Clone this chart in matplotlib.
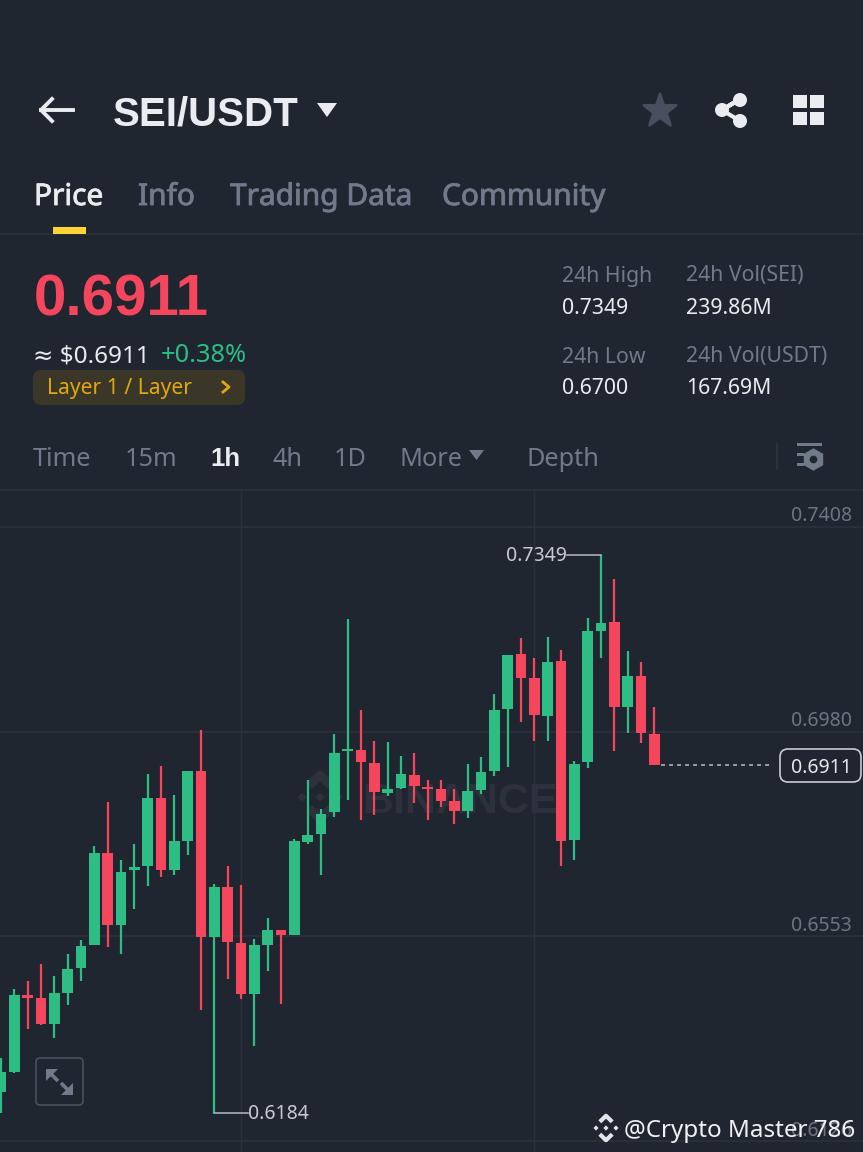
import matplotlib
matplotlib.use('Agg')
import matplotlib.pyplot as plt
import matplotlib.patheffects as pe
from matplotlib.patches import FancyBboxPatch, Polygon, Circle, Rectangle

plt.rcParams['font.family'] = ['Noto Sans', 'DejaVu Sans']

BG = '#1f2630'
UP = '#2ebd85'
DOWN = '#f6465d'
GRID = '#2b313c'
MUTED = '#707a8a'
LIGHT = '#eaecef'
HEAVY = 'Liberation Sans'  # Noto Sans has no bold cut here

# candles, left to right
opens = [.6228, .6271, .6430, .6425, .6370, .6435, .6487, .6535, .6727, .6576,
         .6691, .6701, .6841, .6691, .6753, .6899, .6552, .6657, .6539, .6432,
         .6536, .6567, .6555, .6751, .6767, .6812, .6940, .6942, .6916, .6852,
         .6862, .6891, .6863, .6861, .6835, .6815, .6859, .6899, .7027, .7142,
         .7092, .7014, .7128, .6755, .6917, .7190, .7209, .7032, .7096, .6976]
closes = [.6271, .6430, .6425, .6370, .6434, .6486, .6534, .6727, .6576, .6688,
          .6699, .6843, .6691, .6752, .6899, .6551, .6657, .6541, .6433, .6535,
          .6567, .6555, .6752, .6765, .6808, .6937, .6943, .6918, .6855, .6861,
          .6892, .6867, .6860, .6836, .6815, .6857, .6897, .7025, .7141, .7092,
          .7016, .7126, .6753, .6914, .7190, .7208, .7032, .7096, .6977, .6911]
highs = [.6299, .6443, .6459, .6495, .6470, .6517, .6546, .6741, .6834, .6713,
         .6745, .6892, .6908, .6849, .6899, .6983, .6663, .6700, .6660, .6548,
         .6591, .6567, .6757, .6880, .6820, .6975, .7216, .7025, .6960, .6959,
         .6930, .6937, .6879, .6879, .6861, .6914, .6927, .7060, .7141, .7176,
         .7135, .7179, .7151, .6920, .7217, .7349, .7300, .7148, .7125, .7033]
lows = [.6184, .6267, .6360, .6369, .6342, .6409, .6461, .6535, .6532, .6516,
        .6610, .6658, .6677, .6681, .6722, .6399, .6184, .6465, .6422, .6325,
        .6480, .6413, .6555, .6746, .6682, .6802, .6838, .6796, .6807, .6847,
        .6861, .6832, .6796, .6824, .6787, .6801, .6851, .6888, .6907, .7001,
        .6960, .6961, .6700, .6712, .6904, .7135, .6941, .6978, .6957, .6911]

grid_prices = [.7408, .6980, .6553, .6126]
axis_labels = ['0.7408', '0.6980', '0.6553', '0.6126']
last_price = 0.6911
high_idx, high_val = 45, 0.7349
low_idx, low_val = 16, 0.6184


def binance_logo(ax, cx, cy, s, color, lw, z):
    # three small diamonds plus the upper and lower chevrons
    d = s * 0.26
    for ox in (-s, 0, s):
        ax.add_patch(Polygon([[cx + ox - d, cy], [cx + ox, cy - d], [cx + ox + d, cy], [cx + ox, cy + d]],
                             closed=True, fc=color, ec='none', zorder=z))
    for sign in (-1, 1):
        ax.plot([cx - s * 0.62, cx, cx + s * 0.62],
                [cy + sign * s * 0.62, cy + sign * s * 1.22, cy + sign * s * 0.62],
                color=color, lw=lw, solid_capstyle='butt', zorder=z)


fig = plt.figure(figsize=(8.63, 11.52), dpi=100, facecolor=BG)

# whole-screen layer in pixel coordinates for the app chrome
ui = fig.add_axes([0, 0, 1, 1], zorder=1)
ui.set_xlim(0, 863)
ui.set_ylim(1152, 0)
ui.axis('off')

# chart layer, price axis calibrated on the grid lines
chart = fig.add_axes([0, 0, 1, 662 / 1152], zorder=2)
chart.patch.set_alpha(0)
chart.axis('off')
chart.set_ylim(.6103, .7485)
chart.set_xlim(-0.075, 64.65)

for p in grid_prices:
    chart.axhline(p, color=GRID, lw=1.2, zorder=1)
for xv in [18, 40]:
    chart.axvline(xv, color=GRID, lw=1.0, zorder=1)

# watermark, under the candles
WM = '#2c313c'
ui.text(362, 813, 'BINANCE', color=WM, fontsize=31, family=HEAVY, fontweight='bold',
        ha='left', va='baseline', zorder=1)
binance_logo(ui, 320, 797, 18, WM, 6.5, 1)

for i, (o, c, h, l) in enumerate(zip(opens, closes, highs, lows)):
    col = UP if c >= o else DOWN
    chart.vlines(i, l, h, color=col, lw=1.6, zorder=3)
    chart.bar(i, max(abs(c - o), .0004), bottom=min(o, c), width=0.82, color=col, zorder=3)

# high / low callouts
lbl = '#c8ccd2'
chart.plot([high_idx - 2.55, high_idx], [high_val, high_val], color='#aab0b8', lw=1.2, zorder=4)
chart.plot([low_idx, low_idx + 2.55], [low_val, low_val], color='#aab0b8', lw=1.2, zorder=4)
ui.text(567, 561, '0.7349', color=lbl, fontsize=14, ha='right', va='baseline')
ui.text(248, 1119, '0.6184', color=lbl, fontsize=14, ha='left', va='baseline')

# last price line
chart.plot([49.5, 57.7], [last_price, last_price], color='#a9afb7', lw=1.2, ls=(0, (2.4, 2.4)), zorder=4)

# axis labels sit just above their grid lines
for lab, y in zip(axis_labels, [521, 726, 931, 1136]):
    ui.text(852, y, lab, color='#6e7480', fontsize=14, ha='right', va='baseline', zorder=3)
box = FancyBboxPatch((780, 749), 81, 33, boxstyle='round,pad=0,rounding_size=8',
                     fc=BG, ec='#c9ccd1', lw=1.2, zorder=5)
ui.add_patch(box)
ui.text(821, 773, '0.6911', color='#e6e8ea', fontsize=14, ha='center', va='baseline', zorder=6)

# header
ui.plot([41, 73], [110, 110], color=LIGHT, lw=2.8)
ui.plot([52, 41, 52], [99, 110, 121], color=LIGHT, lw=2.8)
ui.text(113, 125, 'SEI/USDT', color=LIGHT, fontsize=29, family=HEAVY, fontweight='bold', ha='left', va='baseline')
ui.add_patch(Polygon([[317, 103], [337, 103], [327, 117]], closed=True, fc=LIGHT, joinstyle='round'))
ui.plot(660, 111, marker='*', ms=26, color='#474f5f', mec='#474f5f', mew=1.5)
# share icon
ui.plot([722, 740, 722, 740], [110, 99, 110, 121], color=LIGHT, lw=3)
for cx, cy, r in [(722, 110, 7), (740, 100, 7), (740, 121, 7)]:
    ui.add_patch(Circle((cx, cy), r, fc=LIGHT))
for gx, gy in [(793, 95), (810, 95), (793, 112), (810, 112)]:
    ui.add_patch(Rectangle((gx, gy), 14, 13, fc=LIGHT))

tabs = [('Price', 34, LIGHT), ('Info', 138, MUTED), ('Trading Data', 230, MUTED), ('Community', 442, MUTED)]
for t, x, col in tabs:
    ui.text(x, 205, t, color=col, fontsize=21.5, ha='left', va='baseline',
            path_effects=[pe.withStroke(linewidth=0.6, foreground=col)])
ui.add_patch(Rectangle((53, 227), 33, 7, fc='#fcd535', zorder=3))
ui.plot([0, 863], [234, 234], color=GRID, lw=1.2)

ui.text(34, 315, '0.6911', color=DOWN, fontsize=42, family=HEAVY, fontweight='bold', ha='left', va='baseline')
ui.text(33, 362, '≈ $0.6911', color=LIGHT, fontsize=17.5, ha='left', va='baseline')
ui.text(161, 362, '+0.38%', color=UP, fontsize=18.3, ha='left', va='baseline')
ui.add_patch(FancyBboxPatch((33, 370), 212, 35, boxstyle='round,pad=0,rounding_size=8', fc='#3a3729', ec='none'))
ui.text(47, 394, 'Layer 1 / Layer', color='#e0a80f', fontsize=15.2, ha='left', va='baseline')
ui.plot([223, 229, 223], [382, 387, 392], color='#e0a80f', lw=2)

stats = [(562, 282, '24h High', MUTED), (562, 314, '0.7349', LIGHT),
         (562, 363, '24h Low', MUTED), (562, 394, '0.6700', LIGHT),
         (686, 281, '24h Vol(SEI)', MUTED), (686, 314, '239.86M', LIGHT),
         (686, 362, '24h Vol(USDT)', MUTED), (686, 394, '167.69M', LIGHT)]
for x, y, t, col in stats:
    ui.text(x, y, t, color=col, fontsize=15.3, ha='left', va='baseline')

periods = [('Time', 33, MUTED), ('15m', 125, MUTED), ('1h', 210, LIGHT), ('4h', 272, MUTED),
           ('1D', 334, MUTED), ('More', 399, MUTED), ('Depth', 526, MUTED)]
for t, x, col in periods:
    if t == '1h':
        ui.text(x, 466, t, color=col, fontsize=18.5, family=HEAVY, fontweight='bold', ha='left', va='baseline')
    else:
        ui.text(x, 466, t, color=col, fontsize=18.2, ha='left', va='baseline')
ui.add_patch(Polygon([[469, 450], [484, 450], [476.5, 460]], closed=True, fc=MUTED))
ui.plot([777, 777], [444, 469], color='#2f3540', lw=1.2)
ui.add_patch(Rectangle((797, 443), 25, 3, fc=MUTED))
ui.add_patch(Rectangle((797, 453), 7, 3, fc=MUTED))
ui.add_patch(Rectangle((797, 463), 7, 3, fc=MUTED))
ui.plot(813, 459, marker='h', ms=15, color=MUTED)
ui.plot(813, 459, marker='o', ms=4.5, color=BG)
ui.plot([0, 863], [490, 490], color=GRID, lw=1.2)

# expand button
ui.add_patch(FancyBboxPatch((36, 1058), 47, 47, boxstyle='round,pad=0,rounding_size=4', fc=BG, ec='#4a505c', lw=1.2, zorder=5))
ui.add_patch(Polygon([[46, 1069], [58, 1069], [46, 1081]], closed=True, fc=MUTED, zorder=6))
ui.add_patch(Polygon([[73, 1095], [61, 1095], [73, 1083]], closed=True, fc=MUTED, zorder=6))
ui.plot([50, 58], [1073, 1081], color=MUTED, lw=2.6, zorder=6, solid_capstyle='butt')
ui.plot([69, 61], [1091, 1083], color=MUTED, lw=2.6, zorder=6, solid_capstyle='butt')

# footer credit, drawn above the chart layer
top = fig.add_axes([0, 0, 1, 1], zorder=3)
top.set_xlim(0, 863)
top.set_ylim(1152, 0)
top.axis('off')
binance_logo(top, 606, 1128, 10, '#e4e6e9', 3, 7)
top.text(624, 1137, '@Crypto Master 786', color='#f0f1f3', fontsize=17.4, ha='left', va='baseline', zorder=7)

fig.savefig('out.png', dpi=100, facecolor=BG)
